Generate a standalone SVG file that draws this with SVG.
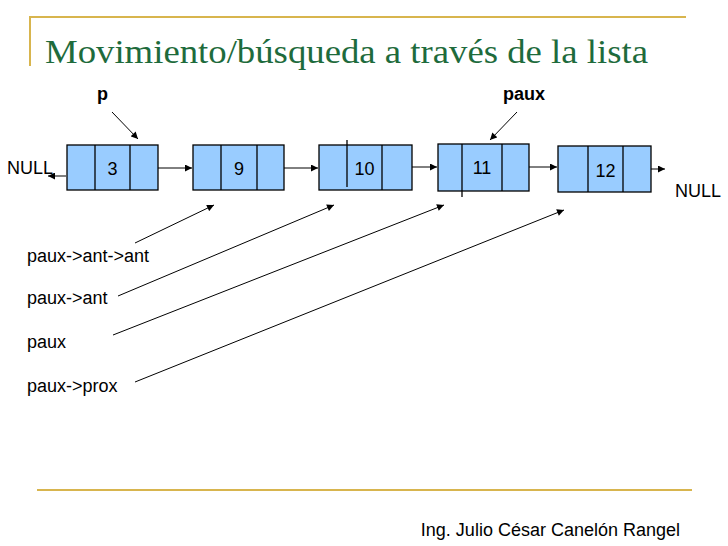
<svg xmlns="http://www.w3.org/2000/svg" width="728" height="546" viewBox="0 0 728 546">
<defs>
<style>
.box{fill:#99CCFF;stroke:#000;stroke-width:1.3}
.div{stroke:#000;stroke-width:1.3}
.t{font-family:"Liberation Sans",Arial,sans-serif;font-size:18px;fill:#000}
.c{text-anchor:middle}
.b{font-weight:bold}
.ln{stroke:#000;stroke-width:1;fill:none;marker-end:url(#ah)}
.gold{stroke:#D8B54E;stroke-width:2;fill:none}
</style>
<marker id="ah" viewBox="0 0 10 10" refX="10" refY="5" markerWidth="8" markerHeight="7" markerUnits="userSpaceOnUse" orient="auto">
<path d="M0,0 L10,5 L0,10 z" fill="#000"/>
</marker>
</defs>
<rect width="728" height="546" fill="#fff"/>
<path class="gold" d="M30,66 V17 H686"/>
<path class="gold" d="M37,490 H692"/>
<text x="45" y="63" font-family="'Liberation Serif','Times New Roman',serif" font-size="34" fill="#1E6B3C" textLength="603" lengthAdjust="spacingAndGlyphs">Movimiento/búsqueda a través de la lista</text>
<text class="t" x="680" y="536" text-anchor="end">Ing. Julio César Canelón Rangel</text>

<g id="n3">
<rect class="box" x="67" y="145" width="91" height="45"/>
<line class="div" x1="95" y1="145" x2="95" y2="190"/>
<line class="div" x1="130" y1="145" x2="130" y2="190"/>
<text class="t c" x="112.5" y="175">3</text>
</g>
<g id="n9">
<rect class="box" x="193" y="145" width="91" height="45"/>
<line class="div" x1="221" y1="145" x2="221" y2="190"/>
<line class="div" x1="257" y1="145" x2="257" y2="190"/>
<text class="t c" x="239" y="175">9</text>
</g>
<g id="n10">
<rect class="box" x="319" y="145" width="93" height="45"/>
<line class="div" x1="347" y1="140" x2="347" y2="187"/>
<line class="div" x1="382" y1="145" x2="382" y2="190"/>
<text class="t c" x="364.5" y="175">10</text>
</g>
<g id="n11">
<rect class="box" x="438" y="144" width="91" height="47"/>
<line class="div" x1="462" y1="144" x2="462" y2="197"/>
<line class="div" x1="502" y1="144" x2="502" y2="191"/>
<text class="t c" x="482" y="174">11</text>
</g>
<g id="n12">
<rect class="box" x="558" y="146" width="93" height="46"/>
<line class="div" x1="588" y1="146" x2="588" y2="192"/>
<line class="div" x1="623" y1="146" x2="623" y2="192"/>
<text class="t c" x="605.5" y="177">12</text>
</g>

<g id="labels">
<text class="t" x="7" y="174">NULL</text>
<text class="t" x="675" y="197">NULL</text>
<text class="t b" x="97" y="100">p</text>
<text class="t b" x="503" y="100">paux</text>
<text class="t" x="27" y="262">paux-&gt;ant-&gt;ant</text>
<text class="t" x="27" y="304">paux-&gt;ant</text>
<text class="t" x="27" y="348">paux</text>
<text class="t" x="27" y="392">paux-&gt;prox</text>
</g>

<g id="connectors">
<line class="ln" x1="158" y1="168" x2="192" y2="168"/>
<line class="ln" x1="284" y1="168" x2="318" y2="168"/>
<line class="ln" x1="412" y1="167" x2="437" y2="167"/>
<line class="ln" x1="529" y1="167" x2="557" y2="167"/>
<line class="ln" x1="651" y1="169" x2="665" y2="169"/>
<line class="ln" x1="66" y1="176" x2="48" y2="176"/>
<line class="ln" x1="112" y1="112" x2="138" y2="139"/>
<line class="ln" x1="517" y1="112" x2="490" y2="140"/>
<line class="ln" x1="135" y1="243" x2="214" y2="205"/>
<line class="ln" x1="118" y1="296" x2="334" y2="205"/>
<line class="ln" x1="113" y1="335" x2="444" y2="205"/>
<line class="ln" x1="135" y1="382" x2="564" y2="210"/>
</g>
</svg>
